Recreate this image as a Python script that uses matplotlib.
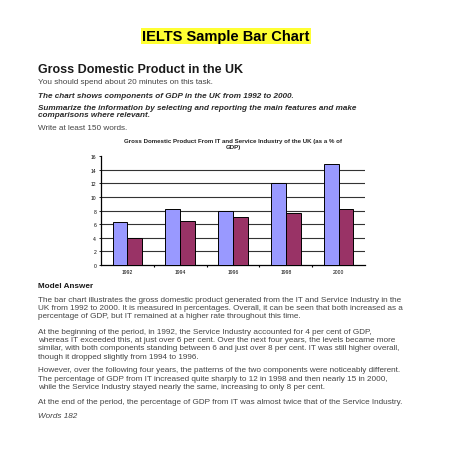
import numpy as np
import matplotlib
matplotlib.use('Agg')
import matplotlib.pyplot as plt

plt.rcParams['font.family'] = ['Liberation Sans', 'DejaVu Sans']

###### data
years = ['1992', '1994', '1996', '1998', '2000']
it_share = [6.3, 8.2, 7.9, 12.0, 14.8]
service_share = [4.0, 6.5, 7.0, 7.7, 8.2]
y_ticks = [0, 2, 4, 6, 8, 10, 12, 14, 16]

chart_title = ('Gross Domestic Product From IT and Service Industry of the UK (as a % of\nGDP)')

para_1 = ['The bar chart illustrates the gross domestic product generated from the IT and Service Industry in the',
          'UK from 1992 to 2000. It is measured in percentages. Overall, it can be seen that both increased as a',
          'percentage of GDP, but IT remained at a higher rate throughout this time.']
para_2 = ['At the beginning of the period, in 1992, the Service Industry accounted for 4 per cent of GDP,',
          'whereas IT exceeded this, at just over 6 per cent. Over the next four years, the levels became more',
          'similar, with both components standing between 6 and just over 8 per cent. IT was still higher overall,',
          'though it dropped slightly from 1994 to 1996.']
para_3 = ['However, over the following four years, the patterns of the two components were noticeably different.',
          'The percentage of GDP from IT increased quite sharply to 12 in 1998 and then nearly 15 in 2000,',
          'while the Service Industry stayed nearly the same, increasing to only 8 per cent.']
para_4 = ['At the end of the period, the percentage of GDP from IT was almost twice that of the Service Industry.']

W = 452.0
fig = plt.figure(figsize=(4.52, 4.52), dpi=100)
fig.patch.set_facecolor('white')

def px(x, y):
    return x / W, 1 - y / W

body_col = '#444444'
body_fs = 5.9

###### page header
fig.text(*px(226, 37), 'IELTS Sample Bar Chart', ha='center', va='center',
         fontsize=10.5, fontweight='bold', color='black',
         bbox=dict(facecolor='#ffff33', edgecolor='none', pad=1.0))
fig.text(*px(38, 70), 'Gross Domestic Product in the UK', ha='left', va='center',
         fontsize=9.0, fontweight='bold', color='#1a1a1a')
fig.text(*px(38, 83), 'You should spend about 20 minutes on this task.', ha='left',
         va='center', fontsize=body_fs, color=body_col)
fig.text(*px(38, 96), 'The chart shows components of GDP in the UK from 1992 to 2000.',
         ha='left', va='center', fontsize=body_fs, color='#2a2a2a',
         fontweight='bold', style='italic')
fig.text(*px(38, 109), 'Summarize the information by selecting and reporting the main features and make',
         ha='left', va='center', fontsize=body_fs, color='#2a2a2a',
         fontweight='bold', style='italic')
fig.text(*px(38, 116), 'comparisons where relevant.', ha='left', va='center',
         fontsize=body_fs, color='#2a2a2a', fontweight='bold', style='italic')
fig.text(*px(38, 128), 'Write at least 150 words.', ha='left', va='center',
         fontsize=body_fs, color=body_col)

###### the bar chart
ax = fig.add_axes([101 / W, 1 - 266 / W, 264 / W, 109 / W])
x = np.arange(len(years))
bw = 0.28
ax.bar(x - bw / 2, it_share, bw, color='#9999ff', edgecolor='black', linewidth=0.7, zorder=3)
ax.bar(x + bw / 2, service_share, bw, color='#993366', edgecolor='black', linewidth=0.7, zorder=3)
ax.set_xlim(-0.5, len(years) - 0.5)
ax.set_ylim(0, 16)
ax.set_yticks(y_ticks)
ax.set_yticklabels([str(t) for t in y_ticks], fontsize=3.6)
ax.set_xticks(x)
ax.set_xticklabels(years, fontsize=3.6)
ax.set_xticks(x[:-1] + 0.5, minor=True)
ax.tick_params(axis='x', which='major', length=0, pad=3)
ax.tick_params(axis='x', which='minor', length=1.5, width=0.8, direction='out')
ax.tick_params(axis='y', length=1.5, width=0.6, direction='out', pad=2)
for t in y_ticks[1:-1]:
    ax.axhline(t, color='#333333', linewidth=0.8, zorder=1)
for s in ['top', 'right']:
    ax.spines[s].set_visible(False)
ax.spines['left'].set_linewidth(0.9)
ax.spines['bottom'].set_linewidth(0.9)
fig.text(*px(233, 144.5), chart_title, ha='center', va='center', fontsize=4.4,
         fontweight='bold', color='#222222', linespacing=1.0)

###### model answer
fig.text(*px(38, 287), 'Model Answer', ha='left', va='center', fontsize=body_fs,
         fontweight='bold', color='#1a1a1a')
line_gap = 8.5
for para, y0 in [(para_1, 300), (para_2, 332), (para_3, 371), (para_4, 403)]:
    for i, line in enumerate(para):
        fig.text(*px(38, y0 + i * line_gap), line, ha='left', va='center',
                 fontsize=body_fs, color=body_col)
fig.text(*px(38, 417), 'Words 182', ha='left', va='center', fontsize=body_fs,
         color=body_col, style='italic')

plt.savefig('out.png', dpi=100)
